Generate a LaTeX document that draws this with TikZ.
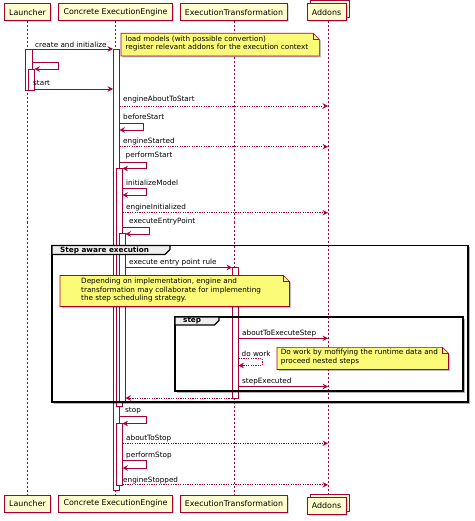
\documentclass[tikz,border=0pt]{standalone}
\usepackage{fontspec}
\setmainfont{DejaVu Sans}
\usetikzlibrary{arrows.meta,shadows}
\definecolor{pborder}{HTML}{A80036}
\definecolor{pfill}{HTML}{FEFECE}
\definecolor{nfill}{HTML}{FBFB77}
\definecolor{tabfill}{HTML}{EEEEEE}
\newcommand\mynote[5]{%
  \fill[black,opacity=0.25] (#1+1.5,#2+1.5) -- (#3-6+1.5,#2+1.5) -- (#3+1.5,#2+7.5) -- (#3+1.5,#4+1.5) -- (#1+1.5,#4+1.5) -- cycle;
  \path[notebox] (#1,#2) -- (#3-6,#2) -- (#3,#2+6) -- (#3,#4) -- (#1,#4) -- cycle;
  \draw[pborder,line width=0.6pt] (#3-6,#2) -- (#3-6,#2+6) -- (#3,#2+6);
  #5}
\begin{document}
\begin{tikzpicture}[x=1pt,y=-1pt,
  pbox/.style={draw=pborder,fill=pfill,line width=1pt,
    drop shadow={shadow xshift=1.5pt,shadow yshift=-1.5pt,opacity=0.3},
    font=\fontsize{7.9}{9}\selectfont,inner sep=0pt,minimum height=17pt},
  lifeline/.style={draw=pborder,line width=0.6pt,dash pattern=on 2pt off 2pt},
  msg/.style={draw=pborder,line width=0.75pt,-{Stealth[length=5.5pt,width=5.5pt,inset=2pt]}},
  dmsg/.style={msg,dash pattern=on 1.2pt off 1.2pt},
  actbar/.style={draw=pborder,fill=white,line width=0.75pt},
  lbl/.style={anchor=west,inner sep=0pt,font=\fontsize{7.25}{8.7}\selectfont},
  notebox/.style={draw=pborder,fill=nfill,line width=0.6pt},
  notetxt/.style={anchor=north west,inner sep=0pt,align=left,font=\fontsize{7.25}{8.6}\selectfont},
  frameline/.style={draw=black,line width=1.3pt},
  frameshadow/.style={draw=black,opacity=0.3,line width=1.3pt},
  tabtitle/.style={anchor=west,inner sep=0pt,font=\bfseries\fontsize{7.25}{8.7}\selectfont}
]
\useasboundingbox (0,0) rectangle (474,521);
% ---- participants (top) ----
\node[pbox,minimum width=46pt] (lt) at (27.5,12.5) {Launcher};
\node[pbox,minimum width=114pt] (et) at (115.5,12.5) {Concrete ExecutionEngine};
\node[pbox,minimum width=107pt] (tt) at (234,12.5) {ExecutionTransformation};
% ---- participants (bottom) ----
\node[pbox,minimum width=46pt] (lb) at (27.5,503.5) {Launcher};
\node[pbox,minimum width=114pt] (eb) at (115.5,503.5) {Concrete ExecutionEngine};
\node[pbox,minimum width=107pt] (tb) at (234,503.5) {ExecutionTransformation};
\coordinate (at) at (328,21);
\coordinate (ab) at (328,494);
% ---- lifelines ----
\draw[lifeline] (lt.south) -- (lb.north);
\draw[lifeline] (et.south) -- (eb.north);
\draw[lifeline] (tt.south) -- (tb.north);
\draw[lifeline] (at) -- (ab);
% ---- activation bars ----
\draw[actbar] (25.5,49) rectangle (32,90.5);
\draw[actbar] (28,69) rectangle (34.5,90.5);
\draw[actbar] (113,49) rectangle (119.5,490);
\draw[actbar] (116,168.5) rectangle (122.5,406);
\draw[actbar] (119,233.5) rectangle (125.5,402);
\draw[actbar] (116,423.5) rectangle (122.5,485.5);
\draw[actbar] (232,267.5) rectangle (238.5,398);
% ---- frames ----
\draw[frameshadow] (469.5,247) -- (469.5,403.5) -- (53.5,403.5);
\draw[frameline] (52,245.5) rectangle (468,402);
\draw[frameline,fill=tabfill] (52,245.5) -- (170,245.5) -- (170,249.5) -- (165,254.5) -- (52,254.5) -- cycle;
\node[tabtitle] (t1) at (60,250) {Step aware execution};
\draw[frameshadow] (464.5,318.5) -- (464.5,392.5) -- (176.5,392.5);
\draw[frameline] (175,317) rectangle (463,391);
\draw[frameline,fill=tabfill] (175,317) -- (219,317) -- (219,320.5) -- (214.5,325) -- (175,325) -- cycle;
\node[tabtitle] (t2) at (183,321.2) {step};
% ---- messages ----
\coordinate (m1a) at (32,49); \coordinate (m1b) at (113,49);
\draw[msg] (m1a) -- (m1b);
\node[lbl] (l1) at (35,44.5) {create and initialize};
\coordinate (m2a) at (32,62); \coordinate (m2b) at (34.5,69);
\draw[msg] (m2a) -- (58,62) -- (58,69) -- (m2b);
\coordinate (m3a) at (34.5,89); \coordinate (m3b) at (113,89);
\draw[msg] (m3a) -- (m3b);
\node[lbl] (l3) at (33,83.5) {start};
\coordinate (m4a) at (119.5,106); \coordinate (m4b) at (328,106);
\draw[dmsg] (m4a) -- (m4b);
\node[lbl] (l4) at (123,100) {engineAboutToStart};
\coordinate (m5a) at (119.5,123); \coordinate (m5b) at (119.5,130);
\draw[msg] (m5a) -- (143.5,123) -- (143.5,130) -- (m5b);
\node[lbl] (l5) at (123,117) {beforeStart};
\coordinate (m6a) at (119.5,146.7); \coordinate (m6b) at (328,146.7);
\draw[dmsg] (m6a) -- (m6b);
\node[lbl] (l6) at (123,141.5) {engineStarted};
\coordinate (m7a) at (119.5,162); \coordinate (m7b) at (122.5,168.5);
\draw[msg] (m7a) -- (146.5,162) -- (146.5,168.5) -- (m7b);
\node[lbl] (l7) at (125.5,155.5) {performStart};
\coordinate (m8a) at (122.5,188.5); \coordinate (m8b) at (122.5,195);
\draw[msg] (m8a) -- (146.5,188.5) -- (146.5,195) -- (m8b);
\node[lbl] (l8) at (126,183) {initializeModel};
\coordinate (m9a) at (122.5,212.7); \coordinate (m9b) at (328,212.7);
\draw[dmsg] (m9a) -- (m9b);
\node[lbl] (l9) at (126,207.5) {engineInitialized};
\coordinate (m10a) at (122.5,227); \coordinate (m10b) at (125.5,234);
\draw[msg] (m10a) -- (149,227) -- (149,234) -- (m10b);
\node[lbl] (l10) at (129,221) {executeEntryPoint};
\coordinate (m11a) at (125.5,267.5); \coordinate (m11b) at (232,267.5);
\draw[msg] (m11a) -- (m11b);
\node[lbl] (l11) at (129,262.5) {execute entry point rule};
\coordinate (m12a) at (238.5,338.3); \coordinate (m12b) at (328,338.3);
\draw[msg] (m12a) -- (m12b);
\node[lbl] (l12) at (242,333) {aboutToExecuteStep};
\coordinate (m13a) at (238.5,358.5); \coordinate (m13b) at (238.5,365.5);
\draw[dmsg] (m13a) -- (262,358.5) -- (262,365.5) -- (m13b);
\node[lbl] (l13) at (241.5,353.3) {do work};
\coordinate (m14a) at (238.5,386.5); \coordinate (m14b) at (328,386.5);
\draw[msg] (m14a) -- (m14b);
\node[lbl] (l14) at (242,381) {stepExecuted};
\coordinate (m15a) at (232,398); \coordinate (m15b) at (125.5,398);
\draw[dmsg] (m15a) -- (m15b);
\coordinate (m16a) at (119.5,416.5); \coordinate (m16b) at (122.5,423.5);
\draw[msg] (m16a) -- (146.5,416.5) -- (146.5,423.5) -- (m16b);
\node[lbl] (l16) at (125,411) {stop};
\coordinate (m17a) at (122.5,443.3); \coordinate (m17b) at (328,443.3);
\draw[dmsg] (m17a) -- (m17b);
\node[lbl] (l17) at (126,438.3) {aboutToStop};
\coordinate (m18a) at (122.5,460.5); \coordinate (m18b) at (122.5,468);
\draw[msg] (m18a) -- (146.5,460.5) -- (146.5,468) -- (m18b);
\node[lbl] (l18) at (126,455) {performStop};
\coordinate (m19a) at (122.5,484.8); \coordinate (m19b) at (328,484.8);
\draw[dmsg] (m19a) -- (m19b);
\node[lbl] (l19) at (123,480) {engineStopped};
% ---- notes ----
\mynote{121}{33.3}{319.3}{56}{\node[notetxt] (n1) at (125.3,35.3) {load models (with possible convertion)\\register relevant addons for the execution context};}
\mynote{60}{275.5}{289.5}{306.5}{\node[notetxt] (n2) at (81,278) {Depending on implementation, engine and\\transformation may collaborate for implementing\\the step scheduling strategy.};}
\mynote{277}{347.3}{448.5}{369.5}{\node[notetxt] (n3) at (280.7,349) {Do work by mofifying the runtime data and\\proceed nested steps};}
% ---- Addons collections ----
\draw[pborder,fill=pfill,line width=1pt] (310,1) rectangle (349.5,18);
\node[pbox,minimum width=39pt] (ad) at (326.5,12.5) {Addons};
\draw[pborder,fill=pfill,line width=1pt] (310,494) rectangle (349,511);
\node[pbox,minimum width=39pt] (adb) at (326.5,505.5) {Addons};
\end{tikzpicture}
\end{document}
